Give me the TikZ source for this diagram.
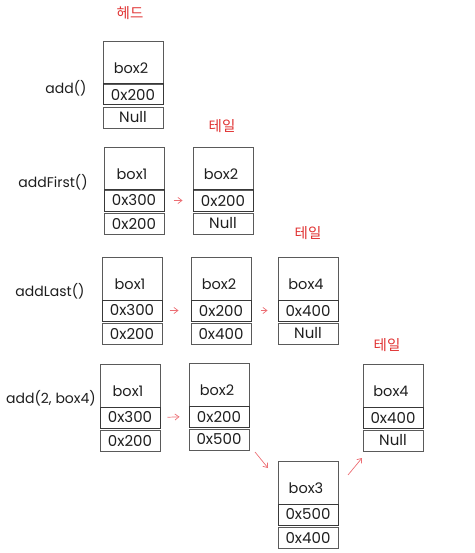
\documentclass[tikz,border=0pt]{standalone}
\usepackage{fontspec}
\setmainfont{Poppins}
\newfontfamily\kor{Noto Sans CJK KR}
\usetikzlibrary{arrows.meta}
\definecolor{boxline}{HTML}{5A5A5A}
\definecolor{midline}{HTML}{383838}
\definecolor{inktext}{HTML}{1E1E1E}
\definecolor{korred}{HTML}{E03131}
\definecolor{arrred}{HTML}{EC6E74}
\tikzset{
  cellbox/.style={draw=boxline, line width=0.7pt, minimum width=60pt, inner sep=0pt, text=inktext, font=\fontsize{15}{17}\selectfont},
  topcell/.style={cellbox, minimum height=43pt},
  midcell/.style={cellbox, draw=midline, line width=1.0pt, minimum height=21pt},
  lowcell/.style={cellbox, minimum height=21pt},
  boxname/.style={text=inktext, inner sep=0pt, font=\fontsize{14.5}{17}\selectfont},
  oplabel/.style={text=inktext, inner sep=0pt, font=\fontsize{14}{17}\selectfont},
  korlabel/.style={text=korred, inner sep=0pt, font=\kor\fontsize{14.5}{17}\selectfont},
  link/.style={draw=arrred, line width=0.7pt, -{Straight Barb[length=4pt,width=6pt]}},
}
\newcommand\listbox[6]{%
  \node[topcell] (#1t) at ({#2+30},{#3+21.5}) {};
  \node[boxname] (#1n) at ({#2+28},{#3+27}) {#4};
  \node[midcell] (#1m) at ({#2+30},{#3+53.5}) {#5};
  \node[lowcell] (#1b) at ({#2+30},{#3+76.5}) {#6};
}
\begin{document}
\begin{tikzpicture}[x=1pt,y=-1pt]
\useasboundingbox (0,0) rectangle (474,553);
% row 1
\node[korlabel] (head) at (130,13) {헤드};
\node[oplabel] (op1) at (66,88) {add()};
\listbox{ra}{103}{41}{box2}{0x200}{Null}
% row 2
\node[korlabel] (tail2) at (222,126) {테일};
\node[oplabel] (op2) at (53,182) {addFirst()};
\listbox{rba}{104}{147}{box1}{0x300}{0x200}
\listbox{rbb}{193}{147}{box2}{0x200}{Null}
\draw[link, shorten <=9pt, shorten >=10pt] (rbam.east) -- (rbbm.west);
% row 3
\node[korlabel] (tail3) at (308,233) {테일};
\node[oplabel] (op3) at (50,291) {addLast()};
\listbox{rca}{102}{257}{box1}{0x300}{0x200}
\listbox{rcb}{191}{257}{box2}{0x200}{0x400}
\listbox{rcc}{278}{257}{box4}{0x400}{Null}
\draw[link, shorten <=7pt, shorten >=12pt] (rcam.east) -- (rcbm.west);
\draw[link, shorten <=9pt, shorten >=10pt] (rcbm.east) -- (rccm.west);
% row 4
\node[korlabel] (tail4) at (387,345) {테일};
\node[oplabel] (op4) at (51,398) {add(2, box4)};
\listbox{rda}{100}{364}{box1}{0x300}{0x200}
\listbox{rdb}{189}{363}{box2}{0x200}{0x500}
\listbox{rdc}{278}{461}{box3}{0x500}{0x400}
\listbox{rdd}{363}{364}{box4}{0x400}{Null}
\draw[link, shorten <=7pt, shorten >=9pt] (rdam.east) -- (rdbm.west);
\coordinate (d1s) at (255,452);
\coordinate (d1e) at (268,468);
\coordinate (d2s) at (348,475);
\coordinate (d2e) at (362,458);
\draw[link] (d1s) -- (d1e);
\draw[link] (d2s) -- (d2e);
\end{tikzpicture}
\end{document}
